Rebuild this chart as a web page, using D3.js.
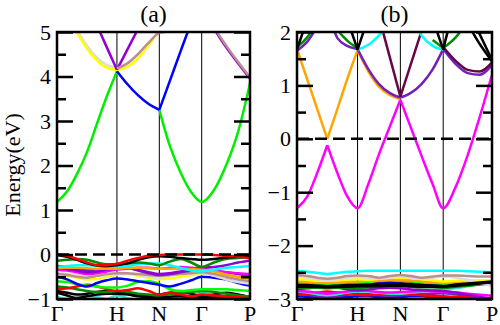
<!DOCTYPE html>
<html>
<head>
<meta charset="utf-8">
<script src="https://cdn.jsdelivr.net/npm/d3@7"></script>
<style>
  body { margin: 0; background: #fff; }
  text { font-family: "Liberation Serif", "Times New Roman", serif; fill: #000; }
</style>
</head>
<body>
<svg id="chart" width="500" height="325"></svg>
<script>
// k-path (shared by both panels)
const kLabels = ["Γ", "H", "N", "Γ", "P"];
const kTicks = [0, 1, 1.707, 2.414, 3.22];
const kGrid = [0, 0.17, 0.33, 0.5, 0.67, 0.83, 1, 1.18, 1.35, 1.53, 1.707,
               1.88, 2.06, 2.24, 2.414, 2.62, 2.82, 3.02, 3.22];

// Panel (a) y ticks
const aMajor = [-1, 0, 1, 2, 3, 4, 5];
const aMinor = [-0.5, 0.5, 1.5, 2.5, 3.5, 4.5];
// Panel (b) y ticks
const bMajor = [-3, -2, -1, 0, 1, 2];
const bMinor = [-2.5, -1.5, -0.5, 0.5, 1.5];

const _ = null;

// Panel (a) valence bands (energies at kGrid)
const aValence = [
  [-0.95,-1.0,-0.98,-0.94,-0.96,-1.0,-0.92,-0.98,-1.02,-1.04,-1.02,-1.0,-0.98,-0.92,-0.86,-0.92,-0.98,-1.02,-1.04],
  [-0.86,-0.92,-0.98,-0.94,-0.9,-0.88,-0.88,-0.9,-0.94,-0.96,-0.96,-0.95,-0.94,-0.96,-0.98,-0.96,-0.94,-0.96,-1.0],
  [-0.82,-0.86,-0.9,-0.88,-0.84,-0.82,-0.84,-0.88,-0.92,-0.94,-0.9,-0.86,-0.84,-0.88,-0.94,-0.9,-0.86,-0.9,-0.96],
  [-0.72,-0.74,-0.78,-0.82,-0.84,-0.84,-0.82,-0.84,-0.88,-0.9,-0.92,-0.9,-0.86,-0.84,-0.82,-0.84,-0.88,-0.92,-0.94],
  [-0.78,-0.76,-0.72,-0.68,-0.72,-0.78,-0.82,-0.8,-0.76,-0.82,-0.9,-0.86,-0.9,-0.94,-0.9,-0.92,-0.94,-0.96,-0.98],
  [-0.6,-0.62,-0.66,-0.7,-0.72,-0.74,-0.74,-0.7,-0.62,-0.6,-0.66,-0.78,-0.82,-0.8,-0.78,-0.78,-0.78,-0.8,-0.82],
  [-0.5,-0.56,-0.66,-0.72,-0.64,-0.58,-0.54,-0.56,-0.6,-0.64,-0.68,-0.72,-0.66,-0.58,-0.5,-0.52,-0.56,-0.64,-0.7],
  [-0.46,-0.48,-0.52,-0.56,-0.55,-0.5,-0.45,-0.44,-0.48,-0.52,-0.56,-0.54,-0.5,-0.46,-0.44,-0.46,-0.5,-0.54,-0.56],
  [-0.42,-0.44,-0.46,-0.5,-0.48,-0.46,-0.44,-0.44,-0.46,-0.5,-0.52,-0.48,-0.44,-0.42,-0.42,-0.48,-0.56,-0.62,-0.66],
  [-0.44,-0.46,-0.5,-0.52,-0.48,-0.44,-0.42,-0.42,-0.44,-0.46,-0.48,-0.46,-0.44,-0.42,-0.4,-0.44,-0.5,-0.56,-0.6],
  [-0.26,-0.28,-0.32,-0.35,-0.33,-0.3,-0.28,-0.3,-0.36,-0.42,-0.46,-0.44,-0.4,-0.36,-0.34,-0.36,-0.4,-0.44,-0.48],
  [-0.34,-0.36,-0.4,-0.44,-0.42,-0.38,-0.34,-0.32,-0.3,-0.3,-0.32,-0.3,-0.28,-0.3,-0.32,-0.36,-0.4,-0.42,-0.44],
  [-0.3,-0.32,-0.36,-0.4,-0.38,-0.34,-0.3,-0.3,-0.34,-0.4,-0.44,-0.42,-0.38,-0.34,-0.3,-0.28,-0.24,-0.18,-0.14],
  [-0.3,-0.3,-0.3,-0.31,-0.32,-0.32,-0.32,-0.3,-0.3,-0.31,-0.32,-0.32,-0.32,-0.33,-0.34,-0.38,-0.45,-0.5,-0.55],
  [-0.28,-0.26,-0.24,-0.24,-0.25,-0.26,-0.28,-0.26,-0.22,-0.2,-0.2,-0.24,-0.3,-0.36,-0.38,-0.34,-0.3,-0.28,-0.26],
  [-0.14,-0.12,-0.1,-0.12,-0.18,-0.22,-0.22,-0.2,-0.18,-0.2,-0.24,-0.16,-0.1,-0.18,-0.28,-0.18,-0.1,-0.08,-0.06],
  [-0.01,-0.05,-0.12,-0.2,-0.25,-0.26,-0.24,-0.2,-0.12,-0.06,-0.04,-0.05,-0.08,-0.1,-0.12,-0.1,-0.07,-0.05,-0.05],
  [0,-0.03,-0.1,-0.18,-0.24,-0.24,-0.21,-0.14,-0.08,-0.03,-0.01,0,0,0,0,-0.01,-0.03,-0.05,-0.08]
];
const aValenceColors = ["#40e0d0", "#000000", "#000000", "#008b00", "#ff0000", "#00ff00",
  "#0000ff", "#ffff00", "#dcdcdc", "#bc8f8f", "#7221bc", "#ff00ff", "#9400d3",
  "#ffa500", "#00ffff", "#008b00", "#000000", "#ff0000"];

// Panel (a) conduction bands
const aConduction = [
  [1.18,1.42,1.8,2.3,2.95,3.55,4.12,_,_,_,3.25,2.45,1.85,1.4,1.18,1.45,2.0,2.75,3.85],
  [_,_,_,_,_,_,4.12,3.82,3.58,3.38,3.25,3.89,4.56,5.22,5.9,_,_,_,_],
  [6.1,5.52,5.06,4.69,4.42,4.26,4.2,_,_,_,_,_,_,_,_,_,_,_,_],
  [6.05,5.46,5.0,4.63,4.36,4.2,4.15,4.22,4.4,4.7,5.05,5.4,_,_,_,_,_,_,_],
  [_,_,_,_,5.14,4.66,4.15,4.62,5.06,5.5,_,_,_,_,5.6,5.08,4.66,4.3,3.95],
  [_,_,_,_,_,_,4.18,4.3,4.5,4.76,4.98,5.02,5.3,5.8,5.7,5.12,4.7,4.33,3.98]
];
const aConductionColors = ["#00ee00", "#0000ff", "#dcdcdc", "#ffff00", "#9400d3", "#bc8f8f"];
// where each conduction band has a kink
const aConductionBreaks = [[0, 1, 1.707, 3.22], [0, 1.707, 3.22], [0, 3.22], [0, 3.22],
  [0, 1, 1.707, 2.414, 3.22], [0, 3.22]];

// Panel (b) valence bands
const bValence = [
  [-2.95,-2.96,-2.97,-2.98,-2.97,-2.96,-2.95,-2.95,-2.96,-2.97,-2.96,-2.95,-2.95,-2.96,-2.97,-2.98,-2.99,-3.0,-3.0],
  [-2.9,-2.92,-2.95,-2.97,-2.95,-2.92,-2.9,-2.91,-2.93,-2.94,-2.93,-2.92,-2.91,-2.9,-2.89,-2.91,-2.94,-2.97,-3.0],
  [-2.92,-2.9,-2.88,-2.86,-2.88,-2.9,-2.92,-2.93,-2.92,-2.9,-2.9,-2.91,-2.93,-2.94,-2.95,-2.96,-2.97,-2.98,-2.98],
  [-2.86,-2.88,-2.91,-2.93,-2.91,-2.88,-2.86,-2.86,-2.88,-2.9,-2.9,-2.88,-2.86,-2.84,-2.82,-2.8,-2.76,-2.72,-2.68],
  [-2.85,-2.86,-2.88,-2.9,-2.88,-2.86,-2.84,-2.85,-2.87,-2.88,-2.87,-2.86,-2.85,-2.86,-2.87,-2.88,-2.9,-2.92,-2.94],
  [-2.82,-2.8,-2.78,-2.77,-2.79,-2.82,-2.84,-2.82,-2.8,-2.79,-2.8,-2.82,-2.83,-2.84,-2.85,-2.88,-2.92,-2.96,-3.0],
  [-2.79,-2.79,-2.79,-2.8,-2.79,-2.79,-2.79,-2.78,-2.77,-2.76,-2.76,-2.77,-2.78,-2.78,-2.79,-2.77,-2.75,-2.73,-2.71],
  [-2.72,-2.73,-2.74,-2.75,-2.74,-2.73,-2.72,-2.72,-2.7,-2.68,-2.68,-2.7,-2.72,-2.73,-2.74,-2.73,-2.72,-2.71,-2.7],
  [-2.7,-2.71,-2.72,-2.7,-2.72,-2.74,-2.75,-2.73,-2.71,-2.7,-2.71,-2.73,-2.74,-2.73,-2.72,-2.72,-2.71,-2.7,-2.7],
  [-2.69,-2.7,-2.71,-2.72,-2.71,-2.7,-2.69,-2.68,-2.66,-2.65,-2.66,-2.67,-2.69,-2.7,-2.71,-2.7,-2.69,-2.68,-2.68],
  [-2.67,-2.68,-2.69,-2.7,-2.69,-2.68,-2.67,-2.66,-2.65,-2.64,-2.64,-2.65,-2.67,-2.69,-2.7,-2.69,-2.68,-2.67,-2.66],
  [-2.63,-2.64,-2.66,-2.66,-2.65,-2.64,-2.63,-2.64,-2.62,-2.6,-2.6,-2.61,-2.63,-2.65,-2.67,-2.66,-2.65,-2.65,-2.65],
  [-2.58,-2.6,-2.63,-2.65,-2.63,-2.6,-2.59,-2.6,-2.62,-2.6,-2.58,-2.6,-2.62,-2.6,-2.58,-2.6,-2.64,-2.7,-2.76],
  [-2.55,-2.57,-2.6,-2.62,-2.6,-2.57,-2.56,-2.57,-2.6,-2.57,-2.55,-2.57,-2.6,-2.58,-2.56,-2.56,-2.57,-2.58,-2.58],
  [-2.74,-2.74,-2.75,-2.76,-2.75,-2.74,-2.74,-2.74,-2.73,-2.72,-2.72,-2.73,-2.74,-2.75,-2.76,-2.73,-2.71,-2.69,-2.67],
  [-2.77,-2.77,-2.77,-2.78,-2.77,-2.77,-2.76,-2.76,-2.76,-2.75,-2.75,-2.76,-2.77,-2.77,-2.77,-2.75,-2.73,-2.71,-2.68],
  [-2.47,-2.49,-2.51,-2.53,-2.51,-2.49,-2.48,-2.47,-2.47,-2.47,-2.47,-2.47,-2.47,-2.47,-2.47,-2.47,-2.48,-2.49,-2.5]
];
const bValenceColors = ["#0000ff", "#7221bc", "#ff0000", "#40e0d0", "#ff00ff", "#9400d3",
  "#008b00", "#ff0000", "#0000ff", "#00ff00", "#ffa500", "#ffff00", "#dcdcdc",
  "#bc8f8f", "#000000", "#000000", "#00ffff"];

// Panel (b) conduction bands
const bConduction = [
  [-1.3,-1.08,-0.65,-0.12,-0.65,-1.08,-1.3,-0.84,-0.3,0.22,0.73,0.21,-0.33,-0.85,-1.3,-0.9,-0.3,0.42,1.2],
  [1.68,1.11,0.57,0.0,0.57,1.12,1.66,1.26,0.98,0.82,0.74,_,_,_,_,_,_,_,_],
  [1.65,1.82,2.08,2.3,1.88,1.74,1.68,1.3,1.03,0.86,0.78,0.86,1.03,1.3,1.68,1.4,1.23,1.2,1.38],
  [_,_,_,_,_,_,_,_,2.3,1.54,0.79,1.4,2.03,_,1.72,1.46,1.29,1.26,1.43],
  [1.72,1.9,2.2,2.5,2.05,1.84,1.7,_,_,_,_,_,_,1.85,1.7,1.9,2.2,_,_],
  [_,_,_,_,_,_,1.67,1.76,1.93,2.15,2.45,2.3,1.93,1.74,1.67,_,_,_,_],
  [1.67,2.23,2.7,_,2.7,2.23,1.67,2.26,2.7,_,_,_,_,2.25,1.67,2.33,2.13,1.77,1.45],
  [_,_,_,_,_,_,_,_,_,_,_,_,_,_,_,_,2.4,1.95,1.48]
];
const bConductionColors = ["#ff00ff", "#ffa500", "#7221bc", "#670748", "#008b00",
  "#00ffff", "#000000", "#000000"];
const bConductionBreaks = [[0, 0.5, 1.707, 3.22], [0, 0.5, 1, 1.707], [0, 1, 2.414, 3.22],
  [0, 1.707, 2.414, 3.22], kTicks, kTicks, kTicks, kTicks];

const svg = d3.select("#chart");
const TOP = 32, BOTTOM = 299;
const smooth = [0, 3.22];

const panels = [
  { id: "a", title: "(a)", x0: 57, x1: 250, yDomain: [-1, 5], major: aMajor, minor: aMinor,
    bands: aValence.concat(aConduction), colors: aValenceColors.concat(aConductionColors),
    breaks: aValence.map(() => smooth).concat(aConductionBreaks) },
  { id: "b", title: "(b)", x0: 297, x1: 492, yDomain: [-3, 2], major: bMajor, minor: bMinor,
    bands: bValence.concat(bConduction), colors: bValenceColors.concat(bConductionColors),
    breaks: bValence.map(() => smooth).concat(bConductionBreaks) }
];

function styleAxis(g) {
  g.select(".domain").remove();
  g.selectAll(".tick line").attr("stroke", "#000").attr("stroke-width", 2.5);
  g.selectAll(".tick text")
    .attr("font-family", "Liberation Serif, serif")
    .attr("font-size", 22)
    .attr("fill", "#000");
}

panels.forEach((p) => {
  const x = d3.scaleLinear().domain([0, 3.22]).range([p.x0, p.x1]);
  const y = d3.scaleLinear().domain(p.yDomain).range([BOTTOM, TOP]);
  const g = svg.append("g").attr("id", "panel-" + p.id);

  svg.append("clipPath").attr("id", "clip-" + p.id)
    .append("rect")
    .attr("x", p.x0).attr("y", TOP)
    .attr("width", p.x1 - p.x0).attr("height", BOTTOM - TOP);

  // high-symmetry lines
  g.selectAll(".kline")
    .data(kTicks.slice(1, -1))
    .join("line")
    .attr("class", "kline")
    .attr("x1", (d) => x(d)).attr("x2", (d) => x(d))
    .attr("y1", TOP).attr("y2", BOTTOM)
    .attr("stroke", "#000").attr("stroke-width", 1);

  const plot = g.append("g").attr("clip-path", "url(#clip-" + p.id + ")");
  const line = d3.line()
    .defined((d) => d[1] != null)
    .x((d) => x(d[0]))
    .y((d) => y(d[1]))
    .curve(d3.curveMonotoneX);

  // each band drawn piece by piece so that its kinks stay sharp
  p.bands.forEach((band, i) => {
    const br = p.breaks[i];
    for (let s = 0; s < br.length - 1; s++) {
      const pts = kGrid
        .map((k, j) => [k, band[j]])
        .filter((d) => d[0] >= br[s] - 1e-6 && d[0] <= br[s + 1] + 1e-6);
      plot.append("path")
        .attr("d", line(pts))
        .attr("fill", "none")
        .attr("stroke", p.colors[i])
        .attr("stroke-width", 2.5);
    }
  });

  // Fermi level
  g.append("line")
    .attr("x1", p.x0).attr("x2", p.x1)
    .attr("y1", y(0)).attr("y2", y(0))
    .attr("stroke", "#000").attr("stroke-width", 2.5)
    .attr("stroke-dasharray", "12,6");

  // axes
  g.append("g").attr("transform", "translate(" + p.x0 + ",0)")
    .call(d3.axisLeft(y).tickValues(p.major).tickSizeInner(-16).tickSizeOuter(0)
      .tickPadding(6).tickFormat(d3.format("d")))
    .call(styleAxis);
  g.append("g").attr("transform", "translate(" + p.x0 + ",0)")
    .call(d3.axisLeft(y).tickValues(p.minor).tickSizeInner(-9).tickSizeOuter(0).tickFormat(""))
    .call(styleAxis);
  g.append("g").attr("transform", "translate(" + p.x1 + ",0)")
    .call(d3.axisRight(y).tickValues(p.major).tickSizeInner(-16).tickSizeOuter(0).tickFormat(""))
    .call(styleAxis);
  g.append("g").attr("transform", "translate(" + p.x1 + ",0)")
    .call(d3.axisRight(y).tickValues(p.minor).tickSizeInner(-9).tickSizeOuter(0).tickFormat(""))
    .call(styleAxis);

  // frame
  g.append("rect")
    .attr("x", p.x0).attr("y", TOP)
    .attr("width", p.x1 - p.x0).attr("height", BOTTOM - TOP)
    .attr("fill", "none").attr("stroke", "#000").attr("stroke-width", 2.5);

  // k labels
  g.selectAll(".klabel")
    .data(kTicks)
    .join("text")
    .attr("class", "klabel")
    .attr("x", (d) => x(d))
    .attr("y", 321)
    .attr("text-anchor", "middle")
    .attr("font-size", 22)
    .text((d, i) => kLabels[i]);

  // title
  g.append("text")
    .attr("x", (p.x0 + p.x1) / 2)
    .attr("y", 22)
    .attr("text-anchor", "middle")
    .attr("font-size", 24)
    .text(p.title);
});

// y label
svg.append("text")
  .attr("transform", "translate(20,165) rotate(-90)")
  .attr("text-anchor", "middle")
  .attr("font-size", 22)
  .text("Energy(eV)");
</script>
</body>
</html>
